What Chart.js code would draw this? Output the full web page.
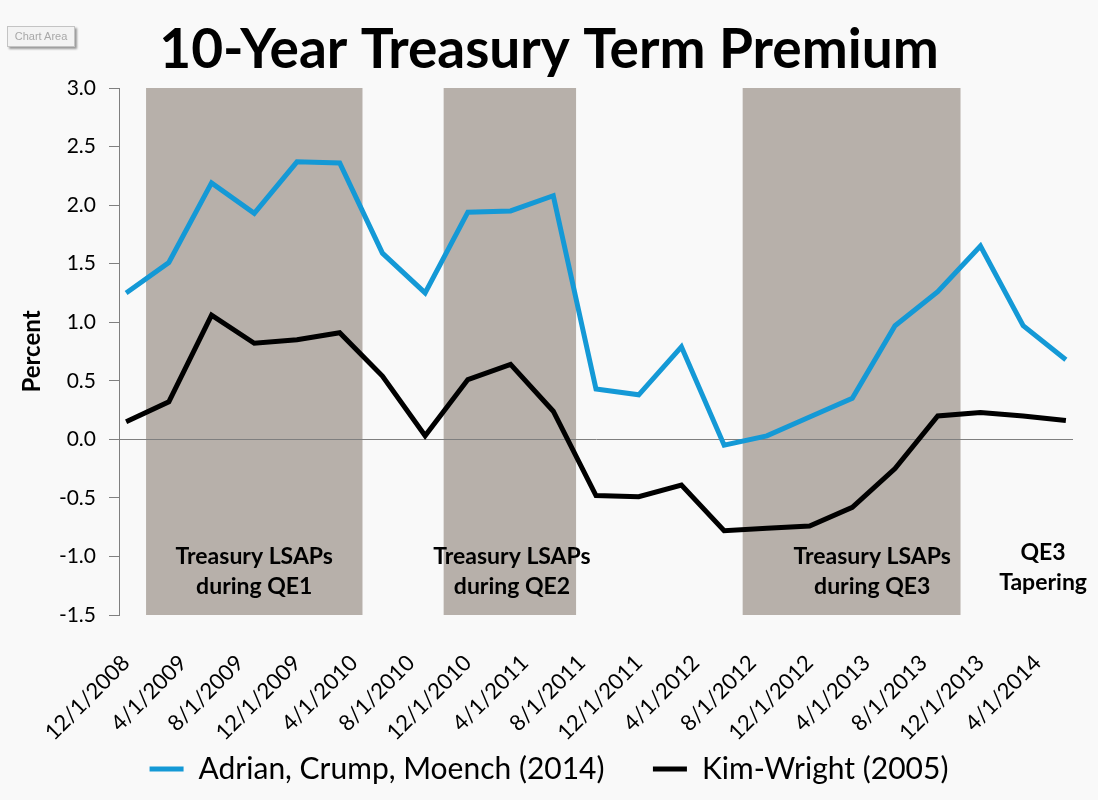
<!DOCTYPE html>
<html>
<head>
<meta charset="utf-8">
<title>10-Year Treasury Term Premium</title>
<script src="https://cdn.jsdelivr.net/npm/chart.js@4.4.1/dist/chart.umd.min.js"></script>
<style>
  html, body { margin: 0; padding: 0; background: #f9f9f9; }
  #wrap { position: relative; width: 1098px; height: 800px; }
  #chart-area-tag {
    position: absolute; left: 7px; top: 26px; width: 66px; height: 19px;
    border: 1px solid #c4c4c4; background: #f3f3f3; color: #a8a8a8;
    font: 11px "Liberation Sans", sans-serif; line-height: 19px; text-align: center;
    box-shadow: 2px 2px 2px #9a9a9a;
  }
</style>
</head>
<body>
<div id="wrap">
  <canvas id="main-chart" width="1098" height="800"></canvas>
  <div id="chart-area-tag">Chart Area</div>
</div>
<script>
'use strict';

// ── DATA ────────────────────────────────────────────────────────────────────
const DATES = [
  '12/1/2008', '3/1/2009', '6/1/2009', '9/1/2009', '12/1/2009', '3/1/2010',
  '6/1/2010', '9/1/2010', '12/1/2010', '3/1/2011', '6/1/2011', '9/1/2011',
  '12/1/2011', '3/1/2012', '6/1/2012', '9/1/2012', '12/1/2012', '3/1/2013',
  '6/1/2013', '9/1/2013', '12/1/2013', '3/1/2014', '6/1/2014'
];
const ACM = [
  1.25, 1.51, 2.19, 1.93, 2.37, 2.36, 1.59, 1.25, 1.94, 1.95, 2.08, 0.43,
  0.38, 0.79, -0.05, 0.03, 0.19, 0.35, 0.97, 1.26, 1.65, 0.97, 0.68
];
const KIM_WRIGHT = [
  0.15, 0.32, 1.06, 0.82, 0.85, 0.91, 0.54, 0.03, 0.51, 0.64, 0.24, -0.48,
  -0.49, -0.39, -0.78, -0.76, -0.74, -0.58, -0.25, 0.20, 0.23, 0.20, 0.16
];
const TICK_LABELS = [
  '12/1/2008', '4/1/2009', '8/1/2009', '12/1/2009', '4/1/2010', '8/1/2010',
  '12/1/2010', '4/1/2011', '8/1/2011', '12/1/2011', '4/1/2012', '8/1/2012',
  '12/1/2012', '4/1/2013', '8/1/2013', '12/1/2013', '4/1/2014'
];
// QE purchase windows, in months after 12/1/2008
const QE_START = [1.4, 22.3, 43.3];
const QE_END = [16.6, 31.6, 58.6];
const NOTES = [
  ['Treasury LSAPs', 'during QE1'],
  ['Treasury LSAPs', 'during QE2'],
  ['Treasury LSAPs', 'during QE3'],
  ['QE3', 'Tapering']
];

// ── HELPERS ─────────────────────────────────────────────────────────────────
const FONT = 'Lato, "Open Sans", "DejaVu Sans", sans-serif';
const COLORS = {
  acm: '#1499d6',
  kw: '#000000',
  band: '#b7b0aa',
  axis: '#7f7f7f'
};

// month offset from Dec 2008
function monthIndex(str) {
  const [m, , y] = str.split('/').map(Number);
  return (y - 2008) * 12 + m - 12;
}

// where each note sits (month offset, value of first line)
const NOTE_POS = [
  { x: 9.0, y: -1.0 },
  { x: 27.1, y: -1.0 },
  { x: 52.4, y: -1.0 },
  { x: 64.4, y: -0.97 }
];

// ── PLUGINS ─────────────────────────────────────────────────────────────────
const qeBands = {
  id: 'qeBands',
  beforeDraw(chart) {
    const { ctx, scales: { x, y } } = chart;
    ctx.save();
    ctx.fillStyle = COLORS.band;
    QE_START.forEach((s, i) => {
      const x0 = x.getPixelForValue(s);
      const x1 = x.getPixelForValue(QE_END[i]);
      const y0 = y.getPixelForValue(y.max);
      const y1 = y.getPixelForValue(y.min);
      ctx.fillRect(x0, y0, x1 - x0, y1 - y0);
    });
    ctx.restore();
  },
  afterDatasetsDraw(chart) {
    const { ctx, scales: { x, y } } = chart;
    ctx.save();
    ctx.fillStyle = '#000';
    ctx.font = 'bold 23px ' + FONT;
    ctx.textAlign = 'center';
    ctx.textBaseline = 'middle';
    NOTES.forEach((lines, i) => {
      const px = x.getPixelForValue(NOTE_POS[i].x);
      const py = y.getPixelForValue(NOTE_POS[i].y);
      lines.forEach((t, j) => ctx.fillText(t, px, py + j * 30));
    });
    ctx.restore();
  }
};

// ── CHART ───────────────────────────────────────────────────────────────────
const ctx = document.getElementById('main-chart').getContext('2d');
const chart = new Chart(ctx, {
  type: 'line',
  data: {
    datasets: [
      {
        label: 'Adrian, Crump, Moench (2014)     ',
        data: DATES.map((d, i) => ({ x: monthIndex(d), y: ACM[i] })),
        borderColor: COLORS.acm,
        backgroundColor: COLORS.acm,
        borderWidth: 5,
        pointRadius: 0,
        tension: 0
      },
      {
        label: 'Kim-Wright (2005)',
        data: DATES.map((d, i) => ({ x: monthIndex(d), y: KIM_WRIGHT[i] })),
        borderColor: COLORS.kw,
        backgroundColor: COLORS.kw,
        borderWidth: 5,
        pointRadius: 0,
        tension: 0
      }
    ]
  },
  options: {
    responsive: false,
    animation: false,
    layout: { padding: { left: 25, right: 25, top: 0, bottom: 6 } },
    plugins: {
      title: {
        display: true,
        text: '10-Year Treasury Term Premium',
        color: '#000',
        font: { family: FONT, size: 55, weight: 'bold' },
        padding: { top: 17, bottom: 5 }
      },
      legend: {
        position: 'bottom',
        labels: {
          usePointStyle: true,
          pointStyle: 'line',
          pointStyleWidth: 34,
          color: '#000',
          padding: 10,
          font: { family: FONT, size: 30 }
        }
      },
      tooltip: { enabled: false }
    },
    scales: {
      x: {
        type: 'linear',
        min: -0.5,
        max: 66.5,
        afterBuildTicks: s => { s.ticks = TICK_LABELS.map(t => ({ value: monthIndex(t) })); },
        afterFit: s => { s.height = 129; },
        ticks: {
          autoSkip: false,
          minRotation: 45,
          maxRotation: 45,
          padding: 35,
          color: '#000',
          font: { family: FONT, size: 22 },
          callback: v => TICK_LABELS.find(t => monthIndex(t) === v) || ''
        },
        grid: { display: false, drawTicks: false },
        border: { display: false }
      },
      y: {
        min: -1.5,
        max: 3,
        afterFit: s => { s.width = 94; },
        ticks: {
          stepSize: 0.5,
          padding: 13,
          color: '#000',
          font: { family: FONT, size: 21 },
          callback: v => v.toFixed(1)
        },
        grid: {
          color: c => (c.tick && c.tick.value === 0 ? COLORS.axis : 'transparent'),
          tickColor: COLORS.axis,
          tickLength: 10,
          lineWidth: 1
        },
        border: { display: true, color: COLORS.axis },
        title: {
          display: true,
          text: 'Percent',
          color: '#000',
          font: { family: FONT, size: 24, weight: 'bold' },
          padding: { top: -7, bottom: 0 }
        }
      }
    }
  },
  plugins: [qeBands]
});
</script>
</body>
</html>
